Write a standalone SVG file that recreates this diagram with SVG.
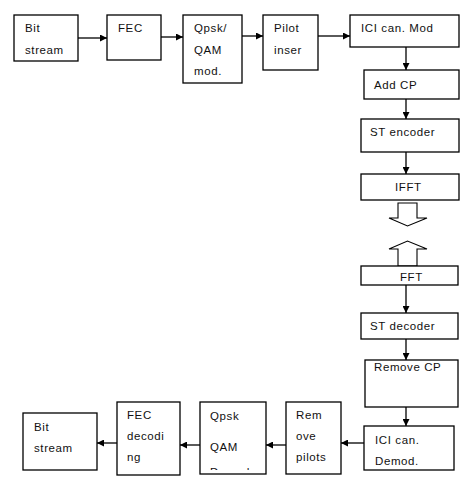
<svg xmlns="http://www.w3.org/2000/svg" width="474" height="491" viewBox="0 0 474 491">
<style>
.box{fill:#fff;stroke:#000;stroke-width:1.3}
.t{font-family:"Liberation Sans","DejaVu Sans",sans-serif;font-size:11.5px;fill:#111;letter-spacing:0.6px}
.c{stroke:#000;stroke-width:1.3;fill:none}
.h{fill:#fff;stroke:#000;stroke-width:1.1}
</style>
<defs>
<marker id="ah" viewBox="0 0 10 10" refX="10" refY="5" markerWidth="7" markerHeight="7" markerUnits="userSpaceOnUse" orient="auto">
<path d="M0,0 L10,5 L0,10 z" fill="#000"/>
</marker>
<clipPath id="qclip"><rect x="200" y="402" width="66" height="68"/></clipPath>
</defs>
<rect width="474" height="491" fill="#fff"/>

<g id="connectors">
<line class="c" x1="78" y1="38" x2="107" y2="38" marker-end="url(#ah)"/>
<line class="c" x1="161" y1="37" x2="183" y2="37" marker-end="url(#ah)"/>
<line class="c" x1="242" y1="36" x2="263" y2="36" marker-end="url(#ah)"/>
<line class="c" x1="318" y1="36" x2="350" y2="36" marker-end="url(#ah)"/>
<line class="c" x1="406" y1="47" x2="406" y2="70" marker-end="url(#ah)"/>
<line class="c" x1="406" y1="99" x2="406" y2="119" marker-end="url(#ah)"/>
<line class="c" x1="406" y1="152" x2="406" y2="174" marker-end="url(#ah)"/>
<line class="c" x1="406" y1="285" x2="406" y2="313" marker-end="url(#ah)"/>
<line class="c" x1="406" y1="339" x2="406" y2="360" marker-end="url(#ah)"/>
<line class="c" x1="406" y1="407" x2="406" y2="426" marker-end="url(#ah)"/>
<line class="c" x1="364" y1="443" x2="341" y2="443" marker-end="url(#ah)"/>
<line class="c" x1="286" y1="445" x2="266" y2="445" marker-end="url(#ah)"/>
<line class="c" x1="200" y1="445" x2="180" y2="445" marker-end="url(#ah)"/>
<line class="c" x1="117" y1="443" x2="97" y2="443" marker-end="url(#ah)"/>
<polygon class="h" points="398,203 417,203 417,218 427,218 407.5,226 389,218 398,218"/>
<polygon class="h" points="398,266 417,266 417,249 427,249 407.5,241 389,249 398,249"/>
</g>

<g id="bitstream-tx"><rect class="box" x="14" y="15" width="64" height="46"/><text class="t" x="25" y="32">Bit</text><text class="t" x="25" y="54">stream</text></g>
<g id="fec"><rect class="box" x="107" y="15" width="54" height="45"/><text class="t" x="118" y="32">FEC</text></g>
<g id="qpsk-mod"><rect class="box" x="183" y="15" width="59" height="68"/><text class="t" x="194" y="32">Qpsk/</text><text class="t" x="194" y="54">QAM</text><text class="t" x="194" y="75">mod.</text></g>
<g id="pilot"><rect class="box" x="263" y="15" width="55" height="55"/><text class="t" x="274" y="32">Pilot</text><text class="t" x="274" y="54">inser</text></g>
<g id="ici-mod"><rect class="box" x="350" y="15" width="109" height="32"/><text class="t" x="361" y="32">ICI can. Mod</text></g>
<g id="add-cp"><rect class="box" x="364" y="70" width="95" height="29"/><text class="t" x="374" y="89">Add CP</text></g>
<g id="st-enc"><rect class="box" x="361" y="119" width="98" height="33"/><text class="t" x="370" y="136">ST encoder</text></g>
<g id="ifft"><rect class="box" x="361" y="174" width="98" height="26"/><text class="t" x="395" y="191">IFFT</text></g>
<g id="fft"><rect class="box" x="361" y="266" width="97" height="19"/><text class="t" x="400" y="281">FFT</text></g>
<g id="st-dec"><rect class="box" x="361" y="313" width="97" height="26"/><text class="t" x="370" y="330">ST decoder</text></g>
<g id="remove-cp"><rect class="box" x="365" y="360" width="93" height="47"/><text class="t" x="374" y="371">Remove CP</text></g>
<g id="ici-demod"><rect class="box" x="364" y="426" width="90" height="44"/><text class="t" x="375" y="444">ICI can.</text><text class="t" x="375" y="465">Demod.</text></g>
<g id="remove-pilots"><rect class="box" x="286" y="402" width="55" height="72"/><text class="t" x="296" y="419">Rem</text><text class="t" x="296" y="440">ove</text><text class="t" x="296" y="461">pilots</text></g>
<g id="qpsk-demod"><rect class="box" x="200" y="402" width="66" height="72"/><text class="t" x="210" y="420">Qpsk</text><text class="t" x="210" y="451">QAM</text><text class="t" x="210" y="476" clip-path="url(#qclip)">Demod.</text></g>
<g id="fec-dec"><rect class="box" x="117" y="402" width="63" height="73"/><text class="t" x="127" y="419">FEC</text><text class="t" x="127" y="440">decodi</text><text class="t" x="127" y="461">ng</text></g>
<g id="bitstream-rx"><rect class="box" x="23" y="413" width="74" height="57"/><text class="t" x="34" y="431">Bit</text><text class="t" x="34" y="452">stream</text></g>
</svg>
